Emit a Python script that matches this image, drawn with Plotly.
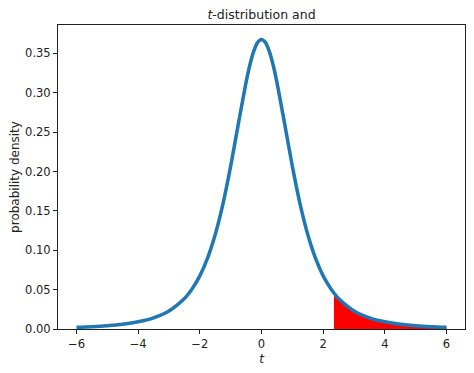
import plotly.graph_objects as go

# Values (t-distribution curve)
t_vals = [-6, -5.5, -5, -4.5, -4, -3.5, -3, -2.5, -2.35, -2.25, -2, -1.75, -1.5, -1.25, -1, -0.75, -0.5,
          -0.375, -0.25, -0.125, 0, 0.125, 0.25, 0.375,
          0.5, 0.75, 1, 1.25, 1.5, 1.75, 2, 2.25, 2.35, 2.5, 3, 3.5, 4, 4.5, 5, 5.5, 6]
density = [0.0022, 0.0030, 0.0042, 0.0061, 0.0092, 0.0142, 0.0230, 0.0387, 0.0456, 0.0509, 0.0675, 0.0900,
           0.1200, 0.1589, 0.2068, 0.2607, 0.3132,
           0.3355, 0.3528, 0.3639, 0.3676, 0.3639, 0.3528, 0.3355,
           0.3132, 0.2607, 0.2068, 0.1589, 0.1200, 0.0900, 0.0675, 0.0509, 0.0456, 0.0387,
           0.0230, 0.0142, 0.0092, 0.0061, 0.0042, 0.0030, 0.0022]
t_crit = 2.35
x_ticks = [-6, -4, -2, 0, 2, 4, 6]
y_ticks = [0.00, 0.05, 0.10, 0.15, 0.20, 0.25, 0.30, 0.35]

tail_t = [t for t in t_vals if t >= t_crit]
tail_d = [d for t, d in zip(t_vals, density) if t >= t_crit]

fig = go.Figure()
fig.add_trace(go.Scatter(x=tail_t, y=tail_d, mode="lines", fill="tozeroy",
                         fillcolor="red", line=dict(color="red", width=0.5, shape="spline", smoothing=0.8),
                         hoverinfo="skip", showlegend=False))
fig.add_trace(go.Scatter(x=t_vals, y=density, mode="lines",
                         line=dict(color="#1f77b4", width=3.5, shape="spline", smoothing=0.8),
                         showlegend=False))

# page body has an 8px default margin, so the figure is 8px smaller
W, H = 466, 365
ML, MR, MT, MB = 50, 9, 17, 44
axis_common = dict(showline=True, mirror=True, linecolor="#222", linewidth=1, automargin=False,
                   ticks="outside", ticklen=4, tickcolor="#222", showgrid=False, zeroline=False,
                   tickfont=dict(size=11.5, color="#222"))
fig.update_layout(
    width=W, height=H,
    margin=dict(l=ML, r=MR, t=MT, b=MB, autoexpand=False),
    paper_bgcolor="white", plot_bgcolor="white",
    font=dict(family="DejaVu Sans", color="#222"),
    title=dict(text="<i>t</i>-distribution and", x=(ML + (W - MR)) / 2 / W, xanchor="center",
               y=1 - 2 / H, yanchor="top", pad=dict(t=0), font=dict(size=12.5), automargin=False),
    xaxis=dict(range=[-6.6, 6.6], tickvals=x_ticks, ticktext=[str(v).replace("-", "−") for v in x_ticks],
               title=dict(text="<i>t</i>", font=dict(size=12), standoff=4), **axis_common),
    yaxis=dict(range=[0, 0.386], tickvals=y_ticks, ticktext=[f"{v:.2f}" for v in y_ticks],
               title=dict(text="probability density", font=dict(size=12), standoff=8), **axis_common),
)
fig.write_html("out.html")
